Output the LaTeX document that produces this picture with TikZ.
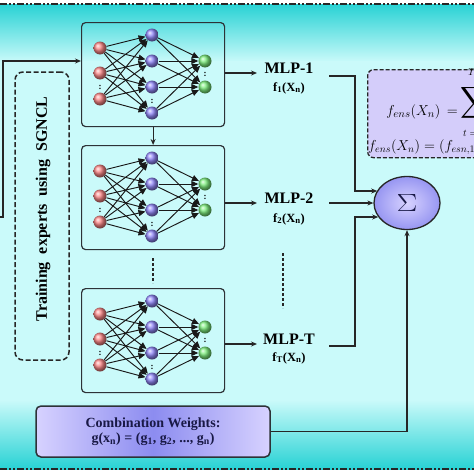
\documentclass[tikz,border=0pt]{standalone}
\usepackage{fontspec}
\usepackage{graphicx}
\setmainfont{Liberation Serif}
\usetikzlibrary{arrows.meta,shapes.geometric,calc}
\definecolor{turq}{RGB}{40,210,212}
\definecolor{lcyan}{RGB}{202,250,250}
\definecolor{boxline}{RGB}{45,50,55}
\definecolor{navy}{RGB}{25,25,70}
\definecolor{lav}{RGB}{212,205,250}
\definecolor{peri}{RGB}{140,140,240}
\definecolor{lavlight}{RGB}{215,210,255}
\definecolor{redball}{RGB}{252,135,135}
\definecolor{blueball}{RGB}{145,135,250}
\definecolor{greenball}{RGB}{125,238,125}
\tikzset{
  netbox/.style={draw=boxline, line width=1.2pt, rounded corners=4pt, minimum width=143pt, minimum height=104pt, inner sep=0pt},
  neuron/.style={circle, inner sep=0pt, minimum size=13pt, shading=ball},
  rn/.style={neuron, ball color=redball},
  bn/.style={neuron, ball color=blueball},
  gn/.style={neuron, ball color=greenball},
  syn/.style={draw=black!90, line width=0.95pt, -{Triangle[length=7pt,width=6pt]}},
  flow/.style={draw=black!85, line width=1.1pt, -{Stealth[length=6pt,width=5pt]}},
  wire/.style={draw=black!85, line width=1.1pt},
  mlp/.style={font=\fontsize{16}{18}\selectfont\bfseries, inner sep=0pt},
  fx/.style={font=\fontsize{12.5}{14}\selectfont\bfseries, inner sep=0pt},
  vdot/.style={font=\fontsize{9}{10}\selectfont\bfseries, inner sep=0pt},
  border/.style={line width=2.6pt, black!85, dash pattern=on 7pt off 2pt on 2pt off 2pt on 2pt off 2pt},
  trainbox/.style={draw=black!85, line width=1.5pt, dash pattern=on 5pt off 2.5pt, rounded corners=8pt, minimum width=54pt, minimum height=288pt, inner sep=0pt},
  combbox/.style={draw=boxline, line width=1.5pt, rounded corners=5pt, minimum width=234pt, minimum height=51pt, inner sep=0pt, left color=lavlight, right color=lavlight, middle color=peri, align=center, font=\fontsize{14}{16}\selectfont\bfseries, text=navy},
  formbox/.style={draw=black!85, line width=1.3pt, dash pattern=on 4pt off 2pt, rounded corners=6pt, fill=lav, minimum width=130pt, minimum height=88pt, inner sep=0pt},
  sigmanode/.style={ellipse, draw=black!85, line width=1.3pt, minimum width=66pt, minimum height=53pt, inner sep=0pt, inner color=lavlight, outer color=peri!85!lav, text=navy},
  ftxt/.style={inner sep=0pt, font=\fontsize{15}{17}\selectfont},
}
\newcommand{\drawnet}[2]{%
  \node[netbox, anchor=north west] (#1box) at (81,#2) {};
  \foreach \i/\dy in {1/26,2/51,3/77} \node[rn] (#1r\i) at (100,#2+\dy) {};
  \foreach \j/\dy in {1/13,2/39,3/65,4/91} \node[bn] (#1b\j) at (152,#2+\dy) {};
  \foreach \k/\dy in {1/39,2/65} \node[gn] (#1g\k) at (205,#2+\dy) {};
  \node[vdot] (#1dr) at (100,#2+65) {:};
  \node[vdot] (#1db) at (152,#2+79) {:};
  \node[vdot] (#1dg) at (205,#2+52) {:};
  \foreach \i in {1,2,3} \foreach \j in {1,2,3,4} \draw[syn] (#1r\i) -- (#1b\j);
  \foreach \j in {1,2,3,4} \foreach \k in {1,2} \draw[syn] (#1b\j) -- (#1g\k);
}
\begin{document}
\begin{tikzpicture}[x=1pt,y=-1pt]
\clip (0,0) rectangle (474,474);
% background
\fill[white] (0,0) rectangle (474,474);
\shade[top color=turq, bottom color=lcyan] (0,4) rectangle (474,62);
\fill[lcyan] (0,61) rectangle (474,401);
\shade[top color=lcyan, bottom color=turq] (0,400) rectangle (474,469);
\draw[border] (0,4) -- (474,4);
\draw[border] (0,469) -- (474,469);

% networks
\drawnet{n1}{22}
\drawnet{n2}{145}
\drawnet{n3}{288}
\draw[flow] (n1box.south) -- (n2box.north);
\coordinate (dd1) at (153,258);
\coordinate (dd2) at (153,283);
\draw[wire, dash pattern=on 3pt off 2pt] (dd1) -- (dd2);

% training box
\node[trainbox] (train) at (42,216) {};
\node[rotate=90, font=\fontsize{16}{18}\selectfont\bfseries, inner sep=0pt] (traintxt) at (43,209) {Training\ \ experts\ \ using\ \ SGNCL};

% left input line
\coordinate (lin) at (0,217);
\coordinate (lc1) at (3,217);
\coordinate (lc2) at (3,61);
\draw[flow] (lin) -- (lc1) -- (lc2) -- (lc2 -| n1box.west);

% MLP labels
\node[mlp] (m1) at (289,68) {MLP-1};
\node[fx] (f1) at (289,88) {f\textsubscript{1}(X\textsubscript{n})};
\node[mlp] (m2) at (289,198) {MLP-2};
\node[fx] (f2) at (289,219) {f\textsubscript{2}(X\textsubscript{n})};
\node[mlp] (m3) at (289,339) {MLP-T};
\node[fx] (f3) at (289,358) {f\textsubscript{T}(X\textsubscript{n})};
\coordinate (md1) at (283,253);
\coordinate (md2) at (283,308);
\draw[wire, dash pattern=on 3pt off 2pt] (md1) -- (md2);

\coordinate (a1) at (257,73);
\coordinate (a2) at (257,203);
\coordinate (a3) at (257,344);
\draw[flow] (n1box.east |- a1) -- (a1);
\draw[flow] (n2box.east |- a2) -- (a2);
\draw[flow] (n3box.east |- a3) -- (a3);

% sigma
\node[sigmanode] (sig) at (407,203) {\fontsize{36}{36}\selectfont\scalebox{1.25}[1]{$\Sigma$}};

\coordinate (o1) at (329,76);
\coordinate (j1) at (355,191);
\coordinate (o2) at (329,203);
\coordinate (o3) at (329,346);
\coordinate (j3) at (355,217);
\draw[flow] (o1) -| (j1) -- (sig.157 |- j1);
\draw[flow] (o2) -- (sig.west);
\draw[flow] (o3) -| (j3) -- (sig.206 |- j3);

% combination weights
\node[combbox] (comb) at (153,431.5) {Combination Weights:\\[-1pt] g(x\textsubscript{n}) = (g\textsubscript{1}, g\textsubscript{2}, ..., g\textsubscript{n})};
\draw[flow] (comb.east) -| (sig.south);

% formula box
\node[formbox, anchor=north west] (fb) at (367,69) {};
\node[ftxt, anchor=east] (fe1) at (458,112) {$f_{ens}(X_n)\,=$};
\node[anchor=west, inner sep=0pt, font=\fontsize{14}{16}\selectfont] (fsum) at (460,103) {\scalebox{2.2}{$\displaystyle\sum$}};
\node[anchor=west, inner sep=0pt, font=\fontsize{10}{11}\selectfont] (ftop) at (468,72) {$T$};
\node[anchor=west, inner sep=0pt, font=\fontsize{10}{11}\selectfont] (fbot) at (463,133) {$t=1$};
\node[anchor=west, inner sep=0pt, font=\fontsize{14}{16}\selectfont] (fe2) at (368,147) {$f_{ens}(X_n) = (f_{esn,1},$};
\end{tikzpicture}
\end{document}
